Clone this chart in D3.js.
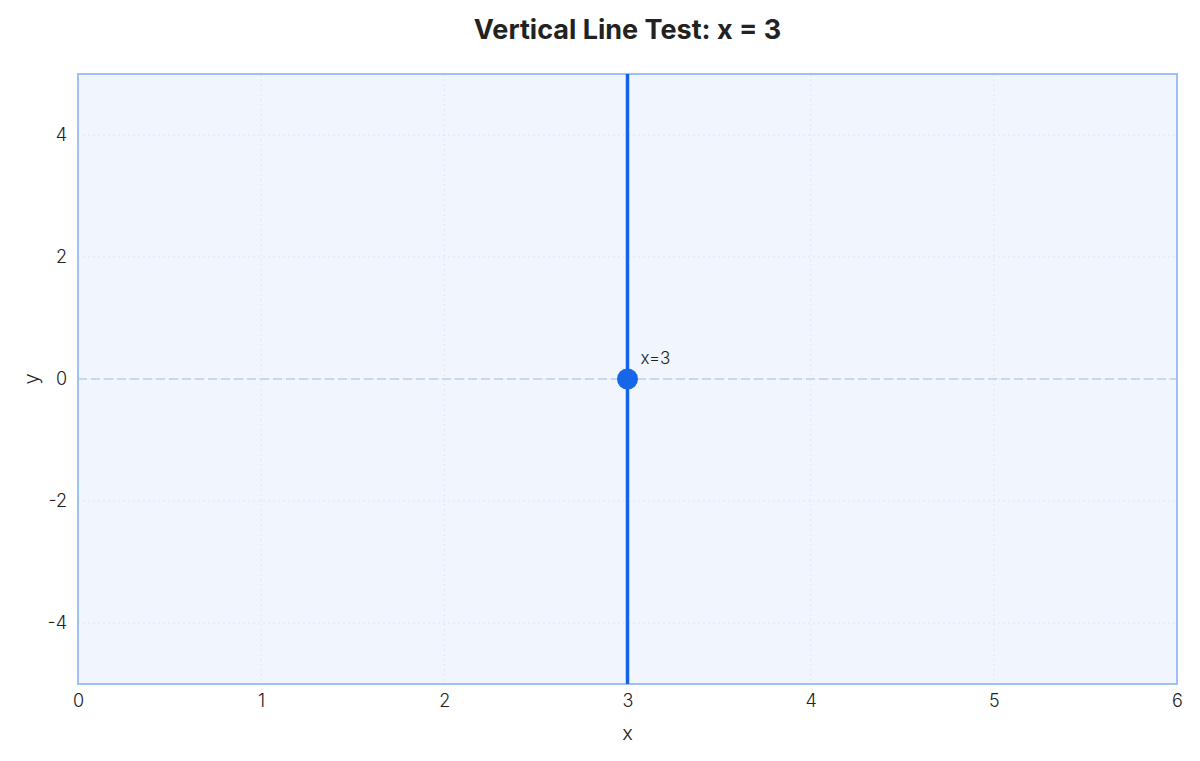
<!DOCTYPE html>
<html><head><meta charset="utf-8">
<script src="https://cdn.jsdelivr.net/npm/d3@7/dist/d3.min.js"></script>
<style>body{margin:0;background:#fff;font-family:Inter,"Open Sans",sans-serif;}</style>
</head><body><svg id="c" width="1200" height="761"></svg>
<script>
const xTicks = [0,1,2,3,4,5,6];
const yTicks = [-4,-2,0,2,4];
const xDomain = [0,6];
const yDomain = [-5,5];
const lineX = [3];
const points = [{x:3,y:0,label:"x=3"}];
const title = "Vertical Line Test: x = 3";

const F = "Inter, sans-serif";
const svg = d3.select("#c");
const m = {l:78,r:1177,t:74,b:684};
const x = d3.scaleLinear().domain(xDomain).range([m.l,m.r]);
const y = d3.scaleLinear().domain(yDomain).range([m.b,m.t]);

svg.append("rect").attr("x",m.l).attr("y",m.t).attr("width",m.r-m.l).attr("height",m.b-m.t).attr("fill","#f1f6fe");

// grid
svg.append("g").selectAll("line").data(xTicks.slice(1,-1)).join("line")
 .attr("x1",d=>x(d)).attr("x2",d=>x(d)).attr("y1",m.t).attr("y2",m.b)
 .attr("stroke","#dfe6f0").attr("stroke-width",1).attr("stroke-dasharray","2,3");
svg.append("g").selectAll("line").data(yTicks).join("line")
 .attr("x1",m.l).attr("x2",m.r).attr("y1",d=>y(d)).attr("y2",d=>y(d))
 .attr("stroke","#dfe6f0").attr("stroke-width",1).attr("stroke-dasharray","2,3");

// zero dashed
svg.append("line").attr("x1",m.l).attr("x2",m.r).attr("y1",y(0)).attr("y2",y(0))
 .attr("stroke","#c4d8f2").attr("stroke-width",2).attr("stroke-dasharray","9,4");

// axes
const xa = svg.append("g").attr("transform",`translate(0,${m.b})`).call(d3.axisBottom(x).tickValues(xTicks).tickSize(0).tickPadding(10).tickFormat(d3.format("d")));
const ya = svg.append("g").attr("transform",`translate(${m.l},0)`).call(d3.axisLeft(y).tickValues(yTicks).tickSize(0).tickPadding(11).tickFormat(d=>d<0?"-"+Math.abs(d):d));
[xa,ya].forEach(a=>{a.select(".domain").remove();a.selectAll("text").attr("font-family",F).attr("font-size",18).attr("font-weight",300).attr("fill","#222");});

// frame
svg.append("rect").attr("x",m.l).attr("y",m.t).attr("width",m.r-m.l).attr("height",m.b-m.t).attr("fill","none").attr("stroke","#9fc0f6").attr("stroke-width",2);

// vertical line
svg.append("g").selectAll("line").data(lineX).join("line")
 .attr("x1",d=>x(d)).attr("x2",d=>x(d)).attr("y1",m.t).attr("y2",m.b)
 .attr("stroke","#1463e6").attr("stroke-width",3.5);

svg.append("g").selectAll("circle").data(points).join("circle")
 .attr("cx",d=>x(d.x)).attr("cy",d=>y(d.y)).attr("r",10.5).attr("fill","#1766ea");
svg.append("g").selectAll("text").data(points).join("text")
 .attr("x",d=>x(d.x)+13).attr("y",d=>y(d.y)-15)
 .attr("font-family",F).attr("font-size",17).attr("font-weight",300).attr("fill","#222").text(d=>d.label);

svg.append("text").attr("x",(m.l+m.r)/2).attr("y",39).attr("text-anchor","middle")
 .attr("font-family",F).attr("font-size",27).attr("font-weight",700).attr("fill","#222").text(title);
svg.append("text").attr("x",(m.l+m.r)/2).attr("y",740).attr("text-anchor","middle")
 .attr("font-family",F).attr("font-size",20).attr("font-weight",300).attr("fill","#222").text("x");
svg.append("text").attr("transform",`translate(38,${y(0)}) rotate(-90)`).attr("text-anchor","middle")
 .attr("font-family",F).attr("font-size",20).attr("font-weight",300).attr("fill","#222").text("y");
</script></body></html>
